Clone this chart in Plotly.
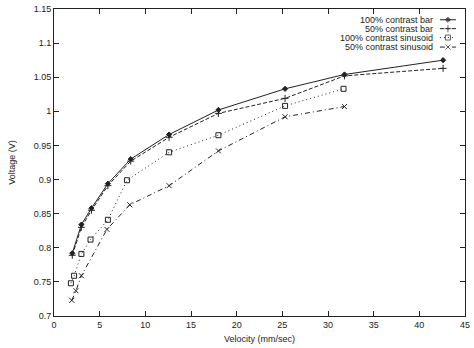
import plotly.graph_objects as go

# Velocity (mm/sec) and response voltage (V) for each stimulus
bar_velocity = [2.0, 3.0, 4.1, 5.9, 8.4, 12.6, 18.0, 25.3, 31.8, 42.6]
bar100_voltage = [0.792, 0.834, 0.858, 0.894, 0.930, 0.966, 1.002, 1.033, 1.054, 1.075]
bar50_voltage = [0.789, 0.830, 0.855, 0.891, 0.927, 0.962, 0.997, 1.019, 1.052, 1.063]

sin100_velocity = [1.85, 2.2, 3.0, 4.0, 5.9, 8.0, 12.6, 18.0, 25.3, 31.7]
sin100_voltage = [0.748, 0.759, 0.791, 0.812, 0.841, 0.899, 0.940, 0.965, 1.008, 1.033]

sin50_velocity = [1.95, 2.4, 3.0, 5.8, 8.3, 12.6, 18.0, 25.3, 31.8]
sin50_voltage = [0.723, 0.737, 0.759, 0.827, 0.863, 0.891, 0.942, 0.992, 1.007]

series_names = ["100% contrast bar", "50% contrast bar",
                "100% contrast sinusoid", "50% contrast sinusoid"]

x_ticks = [0, 5, 10, 15, 20, 25, 30, 35, 40, 45]
y_ticks = [0.7, 0.75, 0.8, 0.85, 0.9, 0.95, 1.0, 1.05, 1.1, 1.15]
y_tick_text = ["0.7", "0.75", "0.8", "0.85", "0.9", "0.95", "1", "1.05", "1.1", "1.15"]

INK = "#222222"
FONT = "Liberation Sans, Arial, sans-serif"

styles = [
    dict(dash="solid", symbol="diamond", size=4),
    dict(dash="4px,2px", symbol="cross-thin-open", size=5),
    dict(dash="1px,3px", symbol="square-open", size=5),
    dict(dash="5px,3px,1px,3px", symbol="x-thin-open", size=5),
]

data = [
    (bar_velocity, bar100_voltage),
    (bar_velocity, bar50_voltage),
    (sin100_velocity, sin100_voltage),
    (sin50_velocity, sin50_voltage),
]

fig = go.Figure()

for (xs, ys), st, name in zip(data, styles, series_names):
    fig.add_trace(go.Scatter(
        x=xs, y=ys, mode="lines+markers", name=name,
        line=dict(color=INK, width=1, dash=st["dash"]),
        marker=dict(symbol=st["symbol"], size=st["size"], color=INK,
                    line=dict(color=INK, width=1)),
        showlegend=False,
    ))

# Key in the top-right corner: right-aligned text with a line sample after it
key_rows = [0.965, 0.936, 0.907, 0.876]
key_x0, key_x1 = 0.939, 0.978
for name, st, ky in zip(series_names, styles, key_rows):
    fig.add_trace(go.Scatter(
        x=[key_x0, (key_x0 + key_x1) / 2, key_x1], y=[ky, ky, ky],
        xaxis="x2", yaxis="y2", mode="lines+markers",
        line=dict(color=INK, width=1, dash=st["dash"]),
        marker=dict(symbol=st["symbol"], size=[0, st["size"], 0], color=INK,
                    line=dict(color=INK, width=1)),
        showlegend=False, hoverinfo="skip",
    ))
    fig.add_annotation(
        x=0.927, y=ky, xref="paper", yref="paper", text=name,
        showarrow=False, xanchor="right", yanchor="middle",
        font=dict(family=FONT, size=9, color=INK),
    )

axis_common = dict(
    showline=True, linecolor=INK, linewidth=1, mirror="allticks",
    ticks="inside", ticklen=5, tickcolor=INK, tickwidth=1,
    showgrid=False, zeroline=False,
    tickfont=dict(family=FONT, size=9, color=INK),
)

fig.update_layout(
    width=474, height=348,
    margin=dict(l=54, r=7, t=4, b=32),
    paper_bgcolor="white", plot_bgcolor="white",
    xaxis=dict(range=[0, 45], tickvals=x_ticks, **axis_common,
               title=dict(text="Velocity (mm/sec)", standoff=6,
                          font=dict(family=FONT, size=9, color=INK))),
    yaxis=dict(range=[0.7, 1.15], tickvals=y_ticks, ticktext=y_tick_text,
               **axis_common,
               title=dict(text="Voltage (V)", standoff=16,
                          font=dict(family=FONT, size=9, color=INK))),
    xaxis2=dict(range=[0, 1], overlaying="x", visible=False, fixedrange=True),
    yaxis2=dict(range=[0, 1], overlaying="y", visible=False, fixedrange=True),
)

fig.write_html("out.html")
